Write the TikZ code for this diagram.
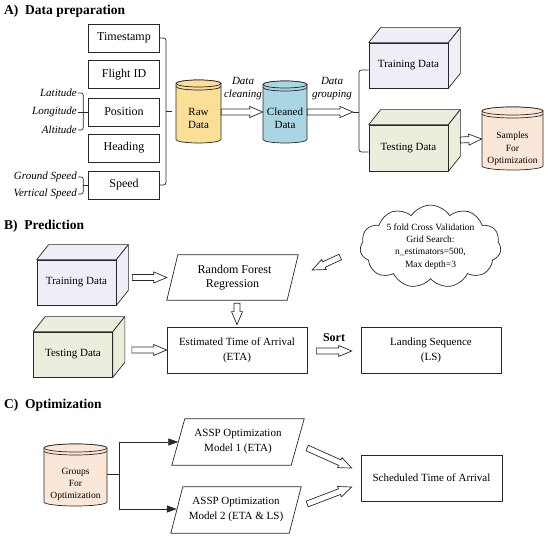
\documentclass[tikz,border=0pt]{standalone}
\usepackage{fontspec}
\setmainfont{Liberation Serif}
\usetikzlibrary{calc,shapes.symbols,arrows.meta}
\pgfdeclarelayer{back}
\pgfdeclarelayer{bg}
\pgfsetlayers{back,bg,main}
\definecolor{rawc}{RGB}{252,223,150}
\definecolor{cleanc}{RGB}{170,214,228}
\definecolor{trainc}{RGB}{239,238,247}
\definecolor{testc}{RGB}{234,239,221}
\definecolor{peachc}{RGB}{251,231,216}
\definecolor{lnc}{RGB}{40,40,40}
\tikzset{
 ln/.style={draw=lnc, line width=0.7pt},
 abox/.style={ln, fill=white, rectangle, inner sep=0pt, align=center, minimum width=71pt, minimum height=28pt, font=\fontsize{12}{14}\selectfont},
 rbox/.style={ln, fill=white, rectangle, inner sep=0pt, align=center, minimum width=140pt, minimum height=46pt, font=\fontsize{11}{15}\selectfont},
 pnode/.style={rectangle, inner sep=0pt, align=center, font=\fontsize{11}{15}\selectfont},
 cube/.style={ln, rectangle, inner sep=0pt, align=center, minimum width=79pt, minimum height=45pt, font=\fontsize{11}{13}\selectfont},
 cyltxt/.style={rectangle, inner sep=0pt, align=center, font=\fontsize{11}{13}\selectfont},
 cylsmall/.style={rectangle, inner sep=0pt, align=center, font=\fontsize{9.5}{12.5}\selectfont},
 lab/.style={inner sep=1pt, font=\fontsize{11}{13}\selectfont\itshape},
 ttl/.style={inner sep=0pt, anchor=west, font=\fontsize{13.5}{15}\selectfont\bfseries},
 hollow/.style={ln, fill=white, line join=miter},
 tri/.style={ln, -{Triangle[length=10pt,width=7pt]}},
}
\newcommand{\harrow}[2]{%
 \path (#1) coordinate (hA) (#2) coordinate (hB);
 \path ($(hB)!13pt!(hA)$) coordinate (hC);
 \draw[hollow] ($(hA)!3pt!90:(hB)$) -- ($(hC)!3pt!-90:(hA)$) -- ($(hC)!5.5pt!-90:(hA)$) -- (hB) -- ($(hC)!5.5pt!90:(hA)$) -- ($(hC)!3pt!90:(hA)$) -- ($(hA)!3pt!-90:(hB)$) -- cycle;}
\newcommand{\cubefaces}[2]{%
 \begin{pgfonlayer}{bg}
 \draw[ln, fill=#2, line join=round] (#1.north west) -- ++(12,15) -- ($(#1.north east)+(12,15)$) -- (#1.north east) -- cycle;
 \draw[ln, fill=#2, line join=round] (#1.north east) -- ++(12,15) -- ($(#1.south east)+(12,15)$) -- (#1.south east) -- cycle;
 \end{pgfonlayer}}
\newcommand{\parashape}[2]{%
 \begin{pgfonlayer}{bg}
 \draw[ln, fill=white] ($(#1.north west)+(#2,0)$) -- (#1.north east) -- ($(#1.south east)+(-#2,0)$) -- (#1.south west) -- cycle;
 \end{pgfonlayer}}
\newcommand{\cylshape}[6]{%
 \begin{pgfonlayer}{bg}
 \draw[ln, fill=#6] ($(#1.center)+(-#2,#3-#5)$) -- ($(#1.center)+(-#2,-#4+#5)$) arc[start angle=180,end angle=360,x radius=#2,y radius=#5] -- ($(#1.center)+(#2,#3-#5)$) arc[start angle=0,end angle=180,x radius=#2,y radius=#5] -- cycle;
 \draw[ln, fill=#6] ($(#1.center)+(-#2,#3-#5)$) arc[start angle=180,end angle=-180,x radius=#2,y radius=#5];
 \draw[ln] ($(#1.center)+(-#2,#3-#5-3)$) arc[start angle=180,end angle=360,x radius=#2,y radius=#5];
 \end{pgfonlayer}}
\begin{document}
\begin{tikzpicture}[x=1pt,y=1pt]
\begin{pgfonlayer}{back}
\fill[white] (0,0) rectangle (550,-540);
\end{pgfonlayer}
\useasboundingbox (0,0) rectangle (550,-540);
% ---------- A ----------
\node[ttl] (ta) at (4,-11) {A)~~Data preparation};
\node[abox] (ts) at (124,-38) {Timestamp};
\node[abox] (fid) at (124,-74.5) {Flight ID};
\node[abox] (pos) at (124,-112) {Position};
\node[abox] (hd) at (124,-148) {Heading};
\node[abox] (sp) at (124,-185) {Speed};
\node[lab, anchor=east] (lat) at (78,-93) {Latitude};
\node[lab, anchor=east] (lon) at (78,-112) {Longitude};
\node[lab, anchor=east] (alt) at (78,-130) {Altitude};
\node[lab, anchor=east] (gs) at (78,-177) {Ground Speed};
\node[lab, anchor=east] (vs) at (78,-194) {Vertical Speed};
\draw[ln, rounded corners=2] (lat.east) -| ($(pos.west)+(-5,0)$) |- (alt.east);
\draw[ln] (lon.east) -- (pos.west);
\draw[ln, rounded corners=2] (gs.east) -| ($(sp.west)+(-5,0)$) |- (vs.east);
\draw[ln] ($(sp.west)+(-5,0)$) -- (sp.west);
\coordinate (rb) at (166,-111);
\draw[ln, rounded corners=2.5] (ts.east) -| (rb) |- (sp.east);
\draw[ln] (rb) -- ++(6,0);
\node[cyltxt, minimum width=45pt] (raw) at (198.5,-118.5) {Raw\\Data};
\cylshape{raw}{22.5}{38.5}{24.5}{3.5}{rawc}
\node[cyltxt, minimum width=44pt] (cl) at (285,-118.5) {Cleaned\\Data};
\cylshape{cl}{22}{37.5}{24.5}{3.5}{cleanc}
\harrow{$(raw.east)+(0,6.5)$}{$(cl.west)+(0,6.5)$}
\node[lab, align=center] (dcl) at (243,-88.5) {Data\\cleaning};
\coordinate (gb) at (353,-112);
\harrow{$(cl.east)+(0,6.5)$}{gb}
\node[lab, align=center] (dgr) at (332,-88.5) {Data\\grouping};
\node[cube, fill=trainc] (trA) at (408.5,-65.5) {Training Data};
\cubefaces{trA}{trainc}
\node[cube, fill=testc, minimum height=46pt] (teA) at (408.5,-148) {Testing Data};
\cubefaces{teA}{testc}
\draw[ln, rounded corners=2.5] ($(trA.west)+(0,-4.5)$) -| ($(gb)+(6,0)$) |- ($(teA.west)+(0,-4)$);
\draw[ln] (gb) -- ++(6,0);
\node[cylsmall, minimum width=61pt] (smp) at (512.5,-149) {Samples\\For\\Optimization};
\cylshape{smp}{30.5}{42}{21}{4}{peachc}
\harrow{$(teA.east)+(12,8)$}{$(smp.west)+(0,10)$}
% ---------- B ----------
\node[ttl] (tb) at (4,-226) {B)~~Prediction};
\node[cube, fill=trainc] (trB) at (76.5,-282.5) {Training Data};
\cubefaces{trB}{trainc}
\node[cube, fill=testc] (teB) at (73,-354.5) {Testing Data};
\cubefaces{teB}{testc}
\node[pnode, minimum width=131pt, minimum height=45pt, font=\fontsize{12}{14}\selectfont] (rf) at (232.5,-277.5) {\hspace*{4pt}Random Forest\\Regression};
\parashape{rf}{11}
\node[rbox] (eta) at (237,-350) {Estimated Time of Arrival\\(ETA)};
\node[rbox] (ls) at (431,-350) {Landing Sequence\\(LS)};
\node[cloud, cloud puffs=11, cloud puff arc=115, aspect=2.1, ln, fill=white, inner sep=0pt, minimum width=141pt, minimum height=67pt, align=center, font=\fontsize{9.5}{12.3}\selectfont] (cv) at (430.5,-246.5) {5 fold Cross Validation\\Grid Search:\\n\_estimators=500,\\Max depth=3};
\harrow{$(trB.east |- rf.west)+(16,0)$}{rf.west}
\harrow{$(teB.east |- eta.west)+(19,0)$}{eta.west}
\harrow{$(rf.south -| eta.north)+(0,-3)$}{$(eta.north)+(0,2)$}
\harrow{$(cv.west)+(-20,-10.5)$}{$(rf.east)+(14,7.5)$}
\harrow{$(eta.east)+(9,-1)$}{$(ls.west)+(-9,-1)$}
\node[inner sep=0pt, font=\fontsize{12}{14}\selectfont\bfseries] (srt) at (334,-338) {Sort};
% ---------- C ----------
\node[ttl] (tc) at (4,-405) {C)~~Optimization};
\node[cylsmall, minimum width=63pt, font=\fontsize{9.5}{12}\selectfont] (gr) at (75.5,-484) {Groups\\For\\Optimization};
\cylshape{gr}{31.5}{40}{22}{4}{peachc}
\node[pnode, minimum width=132pt, minimum height=46pt] (m1) at (238,-442) {ASSP Optimization\\Model 1 (ETA)};
\parashape{m1}{13}
\node[pnode, minimum width=130pt, minimum height=46pt] (m2) at (236,-510) {ASSP Optimization\\Model 2 (ETA \& LS)};
\parashape{m2}{12}
\node[rbox, minimum width=141pt] (sta) at (431.5,-478) {Scheduled Time of Arrival};
\coordinate (fork) at (119,-474);
\draw[ln] ($(gr.east)+(0,10)$) -- (fork);
\draw[tri] (fork) |- ($(m1.west)+(6.5,0)$);
\draw[tri] (fork) |- ($(m2.west)+(6,1)$);
\harrow{$(m1.east)+(3,-6)$}{$(sta.west)+(-9,10)$}
\harrow{$(m2.east)+(6,6)$}{$(sta.west)+(-9,-9)$}
\end{tikzpicture}
\end{document}
